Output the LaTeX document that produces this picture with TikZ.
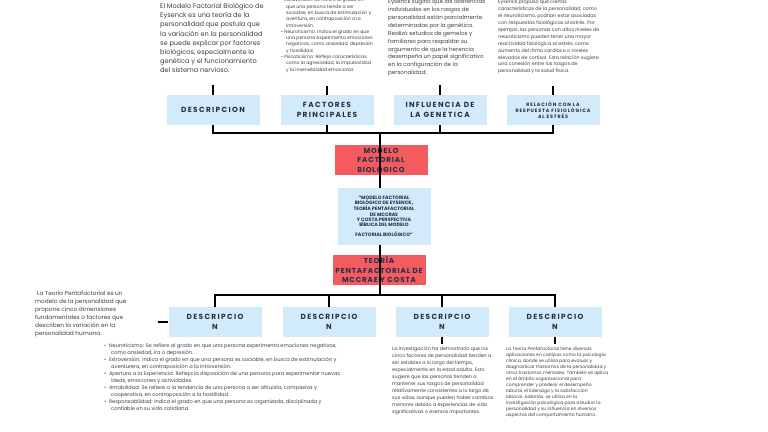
\documentclass[tikz,border=0pt]{standalone}
\usepackage{fontspec}
\setmainfont{Poppins}
\newfontfamily\hdr[LetterSpace=18]{Poppins}
\newfontfamily\hdrr[LetterSpace=12]{Poppins}
\definecolor{lb}{HTML}{D2EBFA}
\definecolor{rd}{HTML}{F45B5E}
\definecolor{tx}{HTML}{3A3F4A}
\definecolor{hd}{HTML}{22304A}
\tikzset{
 bluebox/.style={fill=lb,minimum width=93pt,minimum height=30pt,inner sep=1pt,align=center,text=hd,font=\hdr\bfseries\fontsize{7.4}{10}\selectfont},
 redbox/.style={fill=rd,minimum width=93pt,minimum height=30pt,inner sep=1pt,align=center,text=hd,font=\hdrr\bfseries\fontsize{7.2}{9.5}\selectfont},
 body/.style={anchor=north west,align=flush left,text=tx,inner sep=0pt},
 ln/.style={line width=1.4pt,black}
}
\begin{document}
\begin{tikzpicture}[x=1pt,y=-1pt]
\useasboundingbox (0,0) rectangle (768,431);
% top boxes
\node[bluebox] (d1) at (213,110) {DESCRIPCION};
\node[bluebox] (f1) at (327,110) {FACTORES\\PRINCIPALES};
\node[bluebox] (g1) at (440,110) {INFLUENCIA DE\\LA GENETICA};
\node[bluebox,font=\hdr\bfseries\fontsize{4.8}{6.2}\selectfont] (r1) at (553,110) {RELACIÓN CON LA\\RESPUESTA FISIOLÓGICA\\AL ESTRÉS};
% top texts
\node[body,text width=104pt,font=\fontsize{6.6}{9.2}\selectfont] (t1) at (160,3) {El Modelo Factorial Biológico de Eysenck es una teoría de la personalidad que postula que la variación en la personalidad se puede explicar por factores biológicos, especialmente la genética y el funcionamiento del sistema nervioso.};
\node[body,font=\fontsize{4.6}{6.3}\selectfont] (t2) at (281,-2) {%
\textbullet\ Extraversión: Se refiere al grado en\\\hspace*{5pt}que una persona tiende a ser\\\hspace*{5pt}sociable, en busca de estimulación y\\\hspace*{5pt}aventura, en contraposición a la\\\hspace*{5pt}introversión.\\
\textbullet\ Neuroticismo: Indica el grado en que\\\hspace*{5pt}una persona experimenta emociones\\\hspace*{5pt}negativas, como ansiedad, depresión\\\hspace*{5pt}y hostilidad.\\
\textbullet\ Psicoticismo: Refleja características\\\hspace*{5pt}como la agresividad, la impulsividad\\\hspace*{5pt}y la insensibilidad emocional.};
\node[body,font=\fontsize{5.6}{7.9}\selectfont] (t3) at (388,-1) {Eysenck sugirió que las diferencias\\individuales en los rasgos de\\personalidad están parcialmente\\determinadas por la genética.\\Realizó estudios de gemelos y\\familiares para respaldar su\\argumento de que la herencia\\desempeña un papel significativo\\en la configuración de la\\personalidad.};
\node[body,font=\fontsize{4.8}{6.9}\selectfont] (t4) at (498,0) {Eysenck propuso que ciertas\\características de la personalidad, como\\el neuroticismo, podrían estar asociadas\\con respuestas fisiológicas al estrés. Por\\ejemplo, las personas con altos niveles de\\neuroticismo pueden tener una mayor\\reactividad fisiológica al estrés, como\\aumento del ritmo cardíaco o niveles\\elevados de cortisol. Esta relación sugiere\\una conexión entre los rasgos de\\personalidad y la salud física.};
\draw[ln] (213,85) -- (d1.north);
\draw[ln] (327,86) -- (f1.north);
\draw[ln] (440,85) -- (g1.north);
\draw[ln] (553,86) -- (r1.north);
% center
\node[redbox] (m) at (381,160) {MODELO\\FACTORIAL\\BIOLOGICO};
\node[fill=lb,minimum width=93pt,minimum height=57pt,align=center,text=hd,font=\bfseries\fontsize{4.8}{5.3}\selectfont] (c) at (384,216) {“MODELO FACTORIAL\\BIOLÓGICO DE EYSENCK,\\TEORÍA PENTAFACTORIAL\\DE MCCRAE\\Y COSTA PERSPECTIVA\\BÍBLICA DEL MODELO\\[4pt]FACTORIAL BIOLÓGICO”};
\node[redbox] (p) at (379,270) {TEORÍA\\PENTAFACTORIAL DE\\MCCRAE Y COSTA};
\coordinate (hb) at (380,133);
\draw[ln] (d1.south) |- (hb);
\draw[ln] (r1.south) |- (hb);
\draw[ln] (f1.south) -- (327,133);
\draw[ln] (g1.south) -- (440,133);
\draw[ln] (hb) -- (380,188);
\draw[ln] (380,245) -- (380,295);
% bottom boxes
\node[bluebox] (b1) at (215,322) {DESCRIPCIO\\N};
\node[bluebox] (b2) at (329,322) {DESCRIPCIO\\N};
\node[bluebox] (b3) at (442,322) {DESCRIPCIO\\N};
\node[bluebox] (b4) at (555,322) {DESCRIPCIO\\N};
\coordinate (hc) at (380,295);
\draw[ln] (b1.north) |- (hc);
\draw[ln] (b4.north) |- (hc);
\draw[ln] (b2.north) -- (329,295);
\draw[ln] (b3.north) -- (442,295);
\node[body,font=\fontsize{5.8}{8}\selectfont] (l1) at (35,291) {\hspace*{2pt}La Teoría Pentafactorial es un\\modelo de la personalidad que\\propone cinco dimensiones\\fundamentales o factores que\\describen la variación en la\\personalidad humana.};
\coordinate (lc) at (158,322);
\draw[ln] (lc) -- (b1.west);
\node[body,font=\fontsize{5.1}{7}\selectfont] (l2) at (104,343) {%
\textbullet\ \ Neuroticismo: Se refiere al grado en que una persona experimenta emociones negativas,\\\hspace*{7pt}como ansiedad, ira o depresión.\\
\textbullet\ \ Extroversión: Indica el grado en que una persona es sociable, en busca de estimulación y\\\hspace*{7pt}aventurera, en contraposición a la introversión.\\
\textbullet\ \ Apertura a la Experiencia: Refleja la disposición de una persona para experimentar nuevas\\\hspace*{7pt}ideas, emociones y actividades.\\
\textbullet\ \ Amabilidad: Se refiere a la tendencia de una persona a ser altruista, compasiva y\\\hspace*{7pt}cooperativa, en contraposición a la hostilidad.\\
\textbullet\ \ Responsabilidad: Indica el grado en que una persona es organizada, disciplinada y\\\hspace*{7pt}confiable en su vida cotidiana.};
\node[body,font=\fontsize{4.8}{6.9}\selectfont] (l3) at (392,347) {La investigación ha demostrado que los\\cinco factores de personalidad tienden a\\ser estables a lo largo del tiempo,\\especialmente en la edad adulta. Esto\\sugiere que las personas tienden a\\mantener sus rasgos de personalidad\\relativamente consistentes a lo largo de\\sus vidas, aunque pueden haber cambios\\menores debido a experiencias de vida\\significativas o eventos importantes.};
\node[body,font=\fontsize{4.5}{6}\selectfont] (l4) at (506,347) {La Teoría Pentafactorial tiene diversas\\aplicaciones en campos como la psicología\\clínica, donde se utiliza para evaluar y\\diagnosticar trastornos de la personalidad y\\otros trastornos mentales. También se aplica\\en el ámbito organizacional para\\comprender y predecir el desempeño\\laboral, el liderazgo y la satisfacción\\laboral. Además, se utiliza en la\\investigación psicológica para estudiar la\\personalidad y su influencia en diversos\\aspectos del comportamiento humano.};
\draw[ln] (b3.south) -- (442,344);
\draw[ln] (b4.south) -- (555,344);
\end{tikzpicture}
\end{document}
